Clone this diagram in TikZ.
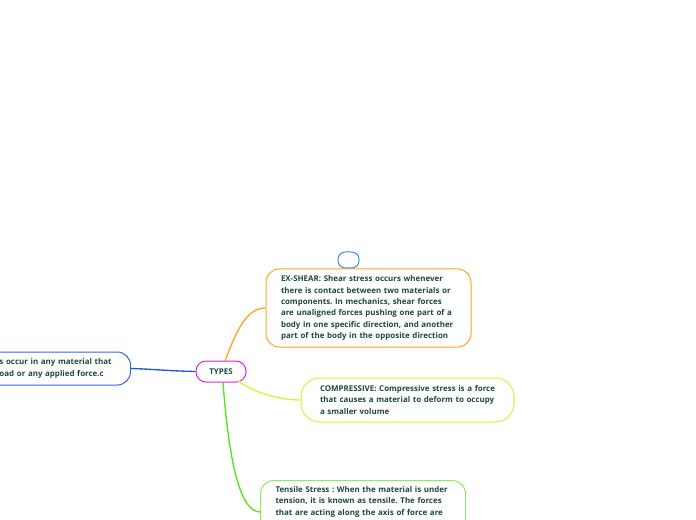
\documentclass[tikz,border=0pt]{standalone}
\usepackage{fontspec}
\setmainfont{Open Sans}
\definecolor{txt}{HTML}{1D4A3B}
\definecolor{cblue}{HTML}{3366EE}
\definecolor{cblueline}{HTML}{2255DD}
\definecolor{cmag}{HTML}{E020E0}
\definecolor{corange}{HTML}{FFA424}
\definecolor{cyellow}{HTML}{D6F23A}
\definecolor{cgreen}{HTML}{8CEB66}
\definecolor{cgreenline}{HTML}{55E022}
\definecolor{csmall}{HTML}{3A8EDA}
\frenchspacing
\hyphenpenalty=10000
\exhyphenpenalty=10000
\begin{document}
\begin{tikzpicture}[x=0.75pt,y=-0.75pt,
  box/.style={draw, line width=0.75pt, rounded corners=10pt, align=left, text=txt,
    font=\fontsize{5.95pt}{8.5pt}\selectfont\bfseries, fill=white},
  conn/.style={line width=1pt}]
\useasboundingbox (0,0) rectangle (696,520);
\coordinate (tA) at (225,361);
\coordinate (tB) at (238,381);
\coordinate (tC) at (223,382);
\coordinate (tE) at (260,512);
\node[box, draw=cblue, anchor=east, text width=87.75pt, inner xsep=10.5pt, minimum height=24.75pt] (stress) at (131,368.5)
  {s occur in any material that\\oad or any applied force.c};
\node[box, draw=cmag, rounded corners=7.5pt, minimum width=37.5pt, minimum height=15.75pt, inner sep=0pt, align=center] (types) at (221,371.5) {TYPES};
\node[box, draw=corange, text width=131.25pt, inner xsep=11.25pt, minimum height=58.5pt] (shear) at (368.5,308)
  {EX-SHEAR: Shear stress occurs whenever\\there is contact between two materials or\\components. In mechanics, shear forces\\are unaligned forces pushing one part of a\\body in one specific direction, and another\\part of the body in the opposite direction};
\node[box, draw=csmall, rounded corners=5.5pt, minimum width=15.75pt, minimum height=12pt, inner sep=0pt] (small) at (348.5,260) {};
\node[box, draw=cyellow, rounded corners=14pt, text width=131.25pt, inner xsep=14.25pt, minimum height=33pt] (comp) at (407.5,400)
  {COMPRESSIVE: Compressive stress is a force\\that causes a material to deform to occupy\\a smaller volume};
\node[box, draw=cgreen, anchor=north west, text width=131.25pt, inner xsep=11.25pt, inner ysep=4.5pt] (tens) at (260,480)
  {Tensile Stress : When the material is under\\tension, it is known as tensile. The forces\\that are acting along the axis of force are\rule[-40pt]{0pt}{0pt}};
\draw[conn, cblueline] (types.west) .. controls (170,371) and (150,369) .. (stress.east);
\draw[conn, corange] (tA) .. controls (235,335) and (245,308) .. (shear.west);
\draw[conn, cyellow] (tB) .. controls (255,393) and (280,400) .. (comp.west);
\draw[conn, cgreenline] (tC) .. controls (228,450) and (238,512) .. (tE);
\end{tikzpicture}
\end{document}
